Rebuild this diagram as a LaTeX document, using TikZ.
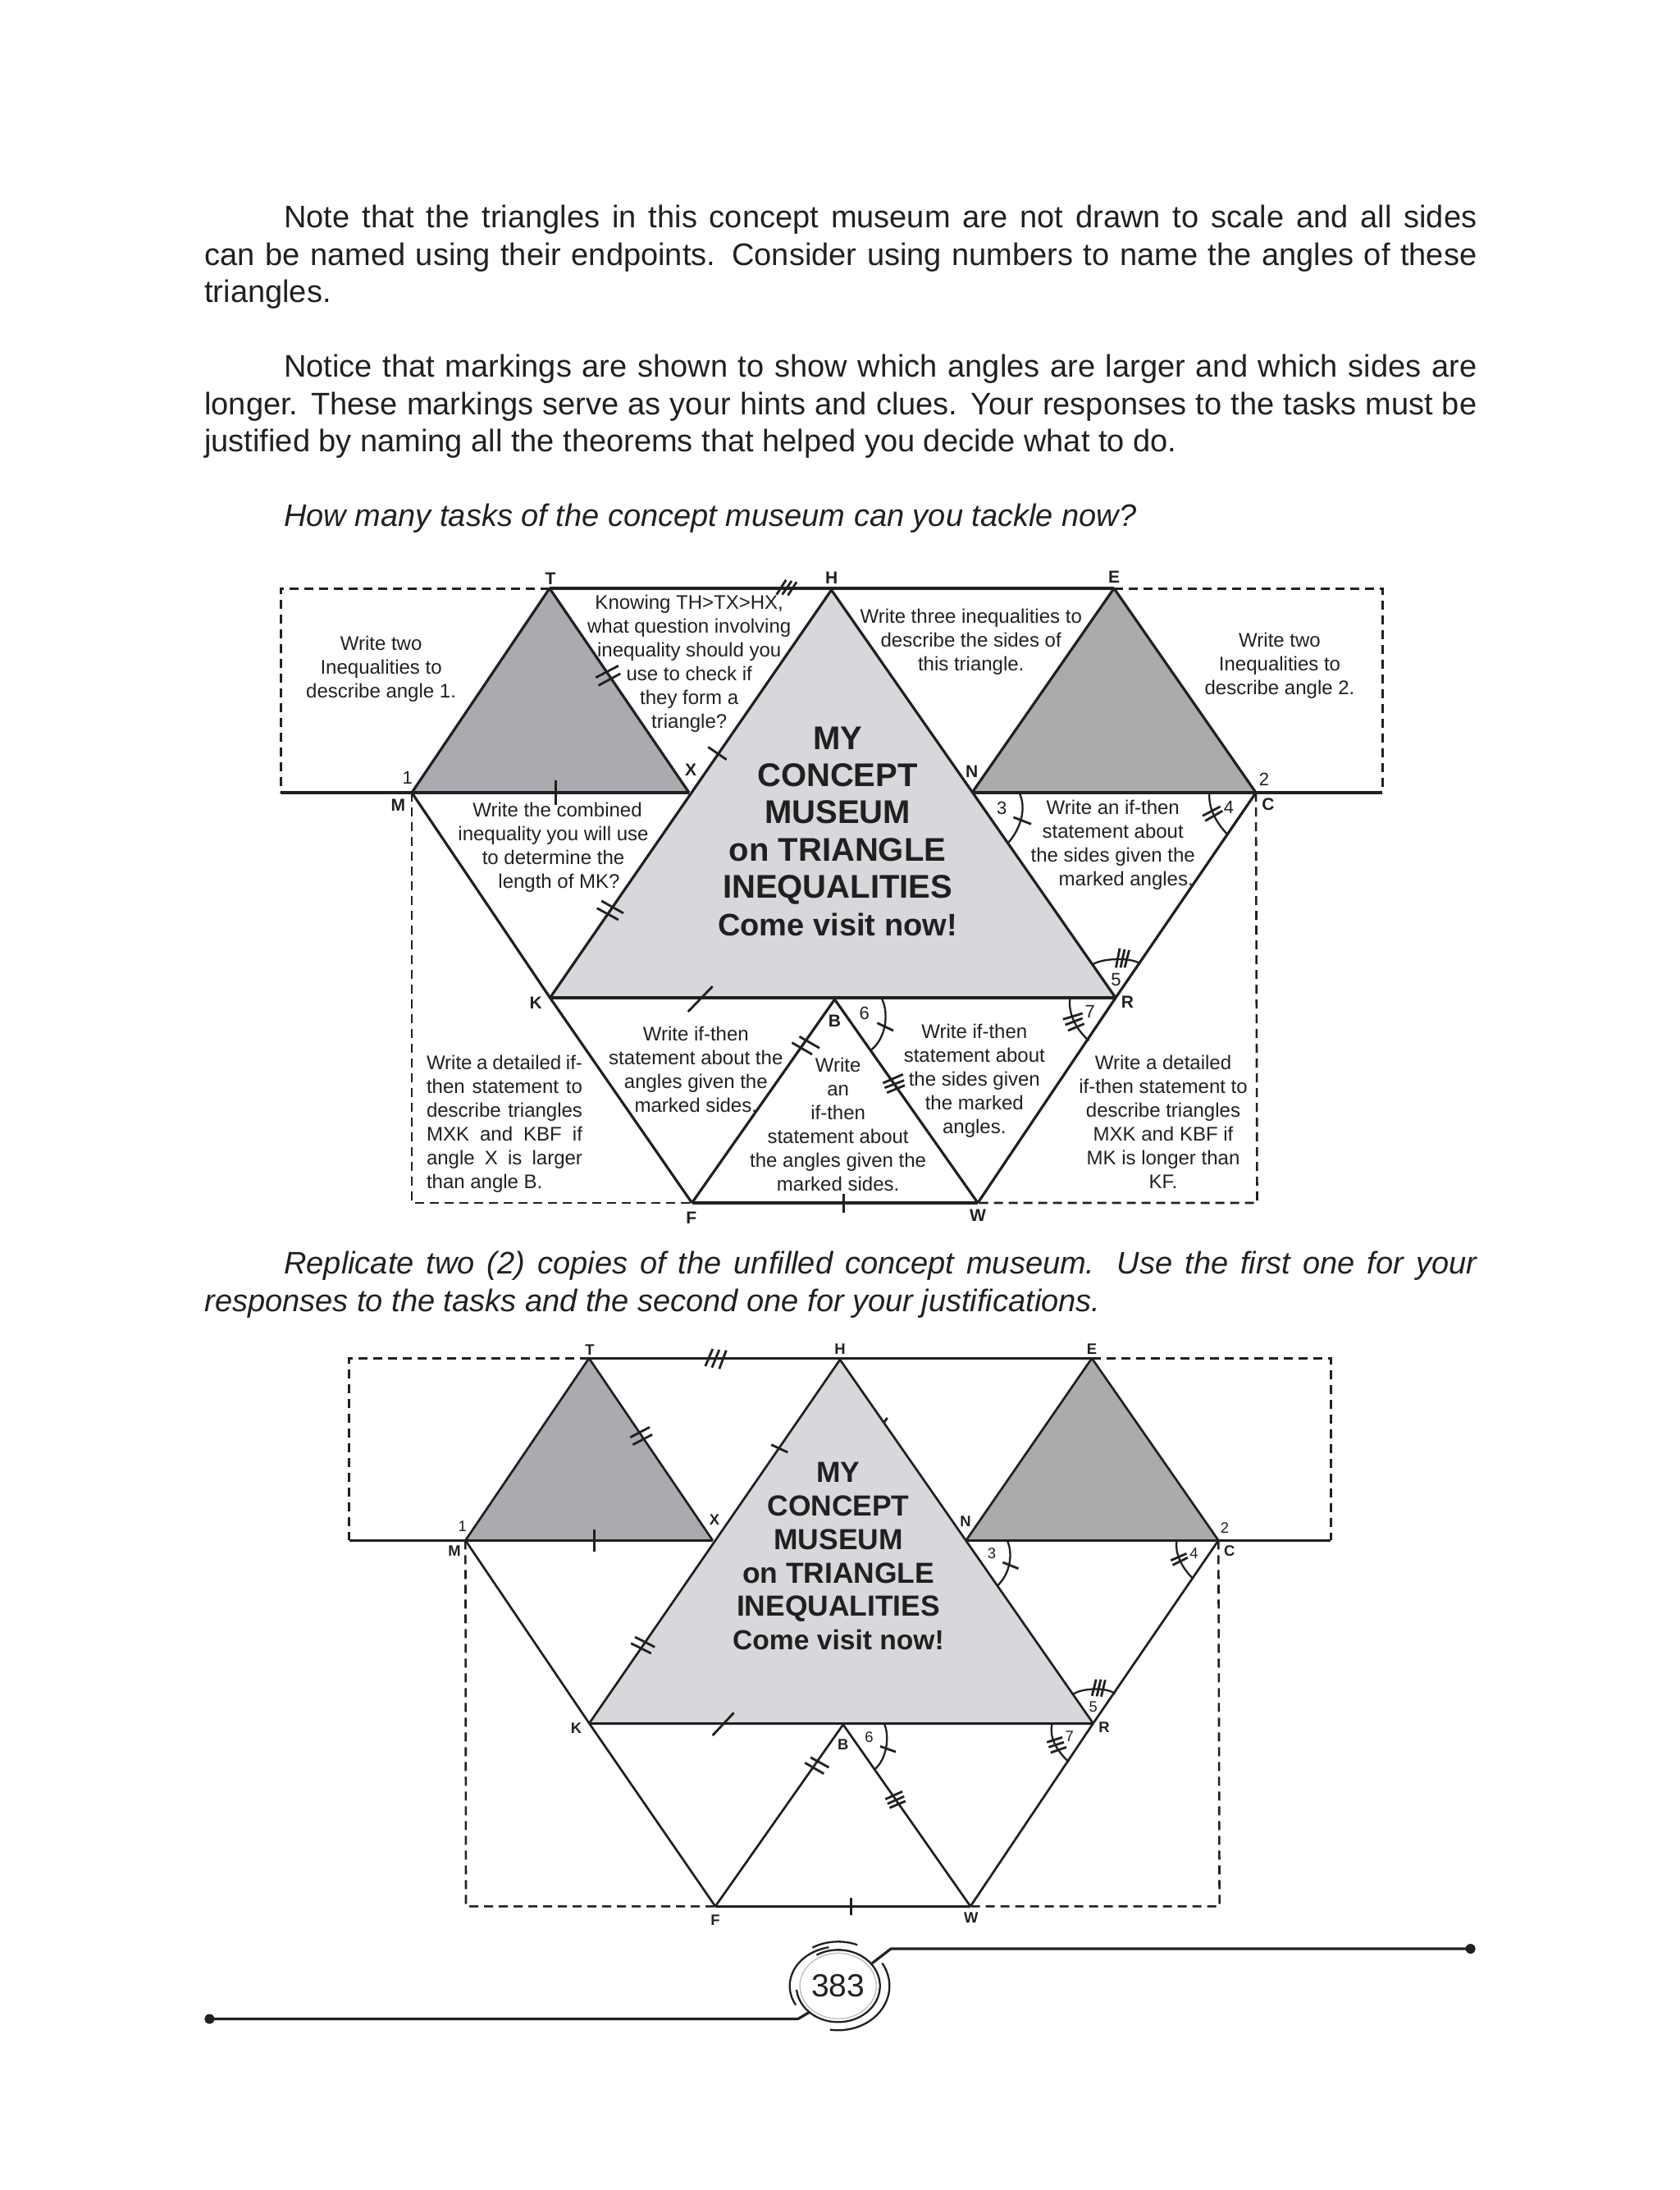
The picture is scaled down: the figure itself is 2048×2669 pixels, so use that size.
\documentclass[tikz,border=0pt]{standalone}
\usepackage{fontspec}
\setmainfont{Liberation Sans}
\definecolor{ink}{HTML}{231F20}
\definecolor{tricenter}{HTML}{D7D8DB}
\definecolor{trileft}{HTML}{AAAAB0}
\definecolor{triright}{HTML}{AAABAD}
\tikzset{
  edgeA/.style={draw=ink,line width=1.6pt,line join=round},
  edgeB/.style={draw=ink,line width=1.35pt,line join=round},
  heavyA/.style={draw=ink,line width=1.9pt},
  dashA/.style={draw=ink,line width=1.5pt,dash pattern=on 5.5pt off 3.5pt},
  dashB/.style={draw=ink,line width=1.3pt,dash pattern=on 5.5pt off 3.5pt},
  tickm/.style={draw=ink,line width=1.4pt},
  arcm/.style={draw=ink,line width=1.15pt},
  para/.style={anchor=north west,inner sep=0pt,text width=775.5pt,align=justify,text=ink,font=\fontsize{19}{22.7}\selectfont},
  taskA/.style={inner sep=0pt,align=center,text=ink,font=\fontsize{12}{14.5}\selectfont},
  taskJ/.style={inner sep=0pt,align=left,text=ink,font=\fontsize{12}{14.5}\selectfont},
  titleA/.style={inner sep=0pt,align=center,text=ink,font=\fontsize{20}{22.7}\selectfont\bfseries},
  titleB/.style={inner sep=0pt,align=center,text=ink,font=\fontsize{17.7}{20.35}\selectfont\bfseries},
  vA/.style={inner sep=0pt,text=ink,font=\fontsize{10.5}{12}\selectfont\bfseries},
  numA/.style={inner sep=0pt,text=ink,font=\fontsize{11}{12}\selectfont},
  vB/.style={inner sep=0pt,text=ink,font=\fontsize{9.2}{11}\selectfont\bfseries},
  numB/.style={inner sep=0pt,text=ink,font=\fontsize{9.2}{11}\selectfont},
}
\begin{document}
\begin{tikzpicture}[x=0.5pt,y=-0.5pt]
\useasboundingbox (0,0) rectangle (2048,2669);
% ---------- paragraphs
\node[para] (p1) at (249,250) {\hspace*{48.5pt}Note that the triangles in this concept museum are not drawn to scale and all sides\linebreak can be named using their endpoints. Consider using numbers to name the angles of these\linebreak triangles.};
\node[para] (p2) at (249,432) {\hspace*{48.5pt}Notice that markings are shown to show which angles are larger and which sides are\linebreak longer. These markings serve as your hints and clues. Your responses to the tasks must be\linebreak justified by naming all the theorems that helped you decide what to do.};
\node[para,font=\fontsize{19}{22.7}\selectfont\itshape] (p3) at (249,614) {\hspace*{48.5pt}How many tasks of the concept museum can you tackle now?};
\node[para,font=\fontsize{19}{22.7}\selectfont\itshape] (p4) at (249,1525) {\hspace*{48.5pt}Replicate two (2) copies of the unfilled concept museum. Use the first one for your\linebreak responses to the tasks and the second one for your justifications.};

% ---------- first museum
\coordinate (T) at (670,717); \coordinate (H) at (1013.5,719); \coordinate (E) at (1358,717);
\coordinate (M) at (502,966); \coordinate (X) at (840,966); \coordinate (N) at (1185,966); \coordinate (C) at (1531,966);
\coordinate (K) at (670.5,1216); \coordinate (R) at (1360,1216); \coordinate (B) at (1017.5,1218);
\coordinate (F) at (843.5,1466); \coordinate (W) at (1192,1466);
\coordinate (TLb) at (342,717); \coordinate (MLb) at (342,966);
\coordinate (ERb) at (1685,717); \coordinate (CRb) at (1685,966);
\coordinate (MB) at (502,1466); \coordinate (CB) at (1532.5,1466);

\fill[tricenter] (H)--(K)--(R)--cycle;
\fill[trileft] (T)--(M)--(X)--cycle;
\fill[triright] (E)--(N)--(C)--cycle;
\draw[dashA] (T)--(TLb)--(MLb);
\draw[heavyA] (MLb)--(X);
\draw[edgeA] (T)--(M) (T)--(X);
\draw[heavyA] (T)--(E);
\draw[dashA] (E)--(ERb)--(CRb);
\draw[heavyA] (N)--(CRb);
\draw[edgeA] (E)--(N) (E)--(C);
\draw[edgeA] (H)--(K) (H)--(R);
\draw[heavyA] (K)--(R);
\draw[edgeA] (M)--(K) (K)--(F) (F)--(B) (B)--(W) (W)--(R) (R)--(C);
\draw[heavyA] (F)--(W);
\draw[dashB] (M)--(MB)--(F);
\draw[dashB] (C)--(CB)--(W);
% ticks
\draw[tickm] (946.7,724.6)--(958.2,706.8) (953.6,724.6)--(965,708) (960.5,725.7)--(971,709.3);
\draw[tickm] (726.3,825.7)--(753.9,811.4) (729.5,835.4)--(756.2,821);
\draw[tickm] (863.2,910.4)--(885.6,925.7);
\draw[tickm] (677.2,950.7)--(677.2,980.7);
\draw[tickm] (727.7,1106.8)--(753.9,1121) (733.2,1097.9)--(759.9,1112.9);
\draw[tickm] (838.8,1232.9)--(868.7,1202);
\draw[tickm] (965.4,1270.7)--(990,1285) (974.5,1263.3)--(999,1277.3);
\draw[tickm] (1076.3,1320)--(1100.8,1309.3) (1078.4,1325.7)--(1102.2,1316.7) (1081.2,1331.7)--(1103,1322.7);
\draw[tickm] (1028.6,1455)--(1028.6,1478.3);
% angle arcs
\draw[arcm] (1242.4,966) .. controls (1252,985) and (1244,1010) .. (1229.6,1026.4);
\draw[tickm] (1235.5,996)--(1257,1004.3);
\draw[arcm] (1474.3,966) .. controls (1473,985) and (1482,1002) .. (1496.8,1017.5);
\draw[tickm] (1466,994.3)--(1487.6,982.9) (1469.2,1000.4)--(1490.3,988.2);
\draw[arcm] (1331.5,1175.7) .. controls (1342,1168) and (1378,1166) .. (1390.3,1174.6);
\draw[tickm] (1360.4,1179.3)--(1365,1155.7) (1366,1179.3)--(1371,1156.8) (1371,1179.3)--(1376.5,1157.9);
\draw[arcm] (1074.9,1217) .. controls (1084,1235) and (1080,1265) .. (1062.3,1279.3);
\draw[tickm] (1069.3,1246.7)--(1088.9,1256);
\draw[arcm] (1304.3,1217.3) .. controls (1302,1235) and (1312,1255) .. (1327.4,1268.3);
\draw[tickm] (1295.8,1242.3)--(1319.7,1235) (1298.6,1249)--(1319.7,1241) (1302,1256)--(1321.7,1247.7);
% vertex labels
\node[vA] (lT) at (671,705) {T};
\node[vA] (lH) at (1013.8,704) {H};
\node[vA] (lE) at (1358,703) {E};
\node[vA] (lM) at (485.3,981) {M};
\node[vA] (lX) at (842,938) {X};
\node[vA] (lN) at (1184.6,940) {N};
\node[vA] (lC) at (1546,980) {C};
\node[vA] (lK) at (653.3,1222) {K};
\node[vA] (lR) at (1374.4,1221.7) {R};
\node[vA] (lB) at (1017.4,1244.3) {B};
\node[vA] (lF) at (842.7,1484) {F};
\node[vA] (lW) at (1192,1481.7) {W};
\node[numA] (n1) at (496.8,947.9) {1};
\node[numA] (n2) at (1541,949.6) {2};
\node[numA] (n3) at (1221.3,985.4) {3};
\node[numA] (n4) at (1498,983.6) {4};
\node[numA] (n5) at (1360.4,1194.3) {5};
\node[numA] (n6) at (1053.8,1235) {6};
\node[numA] (n7) at (1328.8,1233.3) {7};
% task texts
\node[taskA] (t1) at (464.6,815.7) {Write two\\Inequalities to\\describe angle 1.};
\node[taskA] (t2) at (840.2,808.6) {Knowing TH>TX>HX,\\what question involving\\inequality should you\\use to check if\\they form a\\triangle?};
\node[taskA] (t3) at (674.5,1032.9) {\hspace*{5pt}Write the combined\\inequality you will use\\to determine the\hspace*{10pt}\\\hspace*{7pt}length of MK?};
\node[taskA] (t4) at (1183.7,781.8) {Write three inequalities to\\describe the sides of\\this triangle.};
\node[taskA] (t5) at (1560,811) {Write two\\Inequalities to\\describe angle 2.};
\node[taskA] (t6) at (1356.7,1030) {Write an if-then\\statement about\\the sides given the\\\hspace*{16pt}marked angles.};
\node[taskA] (t7) at (848.3,1303) {Write if-then\\statement about the\\angles given the\\marked sides.};
\node[taskA] (t8) at (1021.6,1370.3) {Write\\an\\if-then\\statement about\\the angles given the\\marked sides.};
\node[taskA] (t9) at (1187.8,1317.3) {Write if-then\\statement about\\the sides given\\the marked\\angles.};
\node[taskJ] (t10) at (615,1369.3) {\makebox[95pt][s]{Write a detailed if-}\\\makebox[95pt][s]{then statement to}\\\makebox[95pt][s]{describe triangles}\\\makebox[95pt][s]{MXK and KBF if}\\\makebox[95pt][s]{angle X is larger}\\\makebox[95pt][l]{than angle B.}};
\node[taskA] (t11) at (1418,1367) {Write a detailed\\if-then statement to\\describe triangles\\MXK and KBF if\\MK is longer than\\KF.};
\node[titleA] (title1) at (1021,1013) {MY\\CONCEPT\\MUSEUM\\on TRIANGLE\\INEQUALITIES\\{\fontsize{19}{22.7}\selectfont Come visit now!}};

% ---------- second museum
\coordinate (Tb) at (718,1655.3); \coordinate (Hb) at (1024,1657); \coordinate (Eb) at (1331,1655.3);
\coordinate (Mb) at (567.4,1877.3); \coordinate (Xb) at (868.8,1877.3); \coordinate (Nb) at (1177.7,1877.3); \coordinate (Cb) at (1485.3,1877.3);
\coordinate (Kb) at (718.3,2100.3); \coordinate (Rb) at (1332.6,2100.3); \coordinate (Bb) at (1027.8,2101.7);
\coordinate (Fb) at (872,2323.3); \coordinate (Wb) at (1183,2323.3);
\coordinate (TLc) at (425.9,1655.3); \coordinate (MLc) at (425.9,1877.3);
\coordinate (ERc) at (1622,1655.3); \coordinate (CRc) at (1622,1877.3);
\coordinate (MBc) at (568,2323.3); \coordinate (CBc) at (1486.6,2323.3);

\fill[tricenter] (Hb)--(Kb)--(Rb)--cycle;
\fill[trileft] (Tb)--(Mb)--(Xb)--cycle;
\fill[triright] (Eb)--(Nb)--(Cb)--cycle;
\draw[dashA] (Tb)--(TLc)--(MLc);
\draw[edgeA] (MLc)--(Xb);
\draw[edgeB] (Tb)--(Mb) (Tb)--(Xb);
\draw[edgeA] (Tb)--(Eb);
\draw[dashA] (Eb)--(ERc)--(CRc);
\draw[edgeA] (Nb)--(CRc);
\draw[edgeB] (Eb)--(Nb) (Eb)--(Cb);
\draw[edgeB] (Hb)--(Kb) (Hb)--(Rb);
\draw[edgeA] (Kb)--(Rb);
\draw[edgeB] (Mb)--(Kb) (Kb)--(Fb) (Fb)--(Bb) (Bb)--(Wb) (Wb)--(Rb) (Rb)--(Cb);
\draw[edgeA] (Fb)--(Wb);
\draw[dashB] (Mb)--(MBc)--(Fb);
\draw[dashB] (Cb)--(CBc)--(Wb);
% ticks
\draw[tickm] (859.8,1665)--(868.8,1644) (867.9,1666.7)--(876.8,1645) (876.8,1668.3)--(885.3,1645.7);
\draw[tickm] (768.3,1751.7)--(792,1739.3) (771.4,1760.7)--(795.1,1748.3);
\draw[tickm] (940.2,1760.7)--(960.3,1770);
\draw[tickm] (724.6,1864)--(724.6,1890.7);
\draw[tickm] (769.2,2002.7)--(793.8,2015) (774.1,1995)--(798.2,2007.3);
\draw[tickm] (868.7,2115)--(894.6,2087.3);
\draw[tickm] (1078,1733)--(1081.7,1728);
\draw[tickm] (981.3,2148.3)--(1004.3,2161.7) (988,2141.7)--(1010.4,2154);
\draw[tickm] (1079.3,2192.7)--(1100,2183.3) (1081.8,2198.3)--(1102.2,2189.3) (1084.4,2203.3)--(1103.8,2195);
\draw[tickm] (1037.4,2313.3)--(1037.4,2334);
% arcs
\draw[arcm] (1227.7,1877.3) .. controls (1236,1895) and (1230,1920) .. (1215.6,1932.7);
\draw[tickm] (1222.3,1904)--(1241.5,1911.7);
\draw[arcm] (1434.4,1877.3) .. controls (1432,1895) and (1442,1912) .. (1454.5,1924);
\draw[tickm] (1427.2,1901.7)--(1446.4,1893.3) (1429.5,1907.3)--(1447.8,1898.3);
\draw[arcm] (1308,2065) .. controls (1318,2057) and (1350,2056) .. (1359.4,2064.3);
\draw[tickm] (1331.3,2066.7)--(1336.2,2046.7) (1337,2067.3)--(1342,2046.7) (1342.4,2067.7)--(1347.3,2047.3);
\draw[arcm] (1078.3,2101.7) .. controls (1085,2118) and (1080,2145) .. (1066.5,2156);
\draw[tickm] (1073,2128.3)--(1092,2135);
\draw[arcm] (1282.3,2101.7) .. controls (1279,2120) and (1290,2135) .. (1302.8,2147.3);
\draw[tickm] (1276.2,2123.3)--(1295,2117.3) (1278.3,2129.3)--(1297,2123.3) (1280.8,2136)--(1300,2129.3);
% labels
\node[vB] (lTb) at (719,1645) {T};
\node[vB] (lHb) at (1024,1644.3) {H};
\node[vB] (lEb) at (1331,1644) {E};
\node[vB] (lMb) at (554,1890) {M};
\node[vB] (lXb) at (871,1852.3) {X};
\node[vB] (lNb) at (1177,1854) {N};
\node[vB] (lCb) at (1498.7,1890) {C};
\node[vB] (lKb) at (702.4,2105.7) {K};
\node[vB] (lRb) at (1346,2105) {R};
\node[vB] (lBb) at (1027.8,2125.7) {B};
\node[vB] (lFb) at (872.1,2340) {F};
\node[vB] (lWb) at (1183.9,2336.7) {W};
\node[numB] (n1b) at (563.8,1860) {1};
\node[numB] (n2b) at (1493,1862.3) {2};
\node[numB] (n3b) at (1209,1893.3) {3};
\node[numB] (n4b) at (1455.4,1893.3) {4};
\node[numB] (n5b) at (1332.6,2080.7) {5};
\node[numB] (n6b) at (1059.4,2116.7) {6};
\node[numB] (n7b) at (1303.8,2115.7) {7};
\node[titleB] (title2) at (1022,1896.7) {MY\\CONCEPT\\MUSEUM\\on TRIANGLE\\INEQUALITIES\\{\fontsize{16.8}{20.35}\selectfont Come visit now!}};

% ---------- page number ornament
\coordinate (pg) at (1021.7,2420.3);
\coordinate (dotL) at (255.4,2460.5); \coordinate (dotR) at (1792.6,2375);
\coordinate (kL) at (972.7,2460.5); \coordinate (kR) at (1086,2375);
\coordinate (jL) at (986,2452.7); \coordinate (jR) at (1063,2392.7);
\draw[edgeA] (dotL)--(kL)--(jL);
\draw[edgeA] (jR)--(kR)--(dotR);
\fill[ink] (dotL) circle (3pt);
\fill[ink] (dotR) circle (3pt);
\draw[draw=black!25,line width=0.7pt] (pg) ellipse [x radius=23.3pt,y radius=20pt];
\draw[arcm] ([shift={(121:25.5pt and 22pt)}]pg) arc[start angle=121,end angle=-174,x radius=25.5pt,y radius=22pt];
\draw[arcm] ([shift={(101:29.5pt and 24pt)}]pg) arc[start angle=101,end angle=209,x radius=29.5pt,y radius=24pt];
\draw[arcm] ([shift={(120:31.3pt and 27pt)}]pg) arc[start angle=120,end angle=68,x radius=31.3pt,y radius=27pt];
\draw[arcm] ([shift={(31:31.3pt and 27pt)}]pg) arc[start angle=31,end angle=-99,x radius=31.3pt,y radius=27pt];
\node[inner sep=0pt,text=ink,font=\fontsize{19.5}{22}\selectfont] (pgn) at (pg) {383};
\end{tikzpicture}
\end{document}
